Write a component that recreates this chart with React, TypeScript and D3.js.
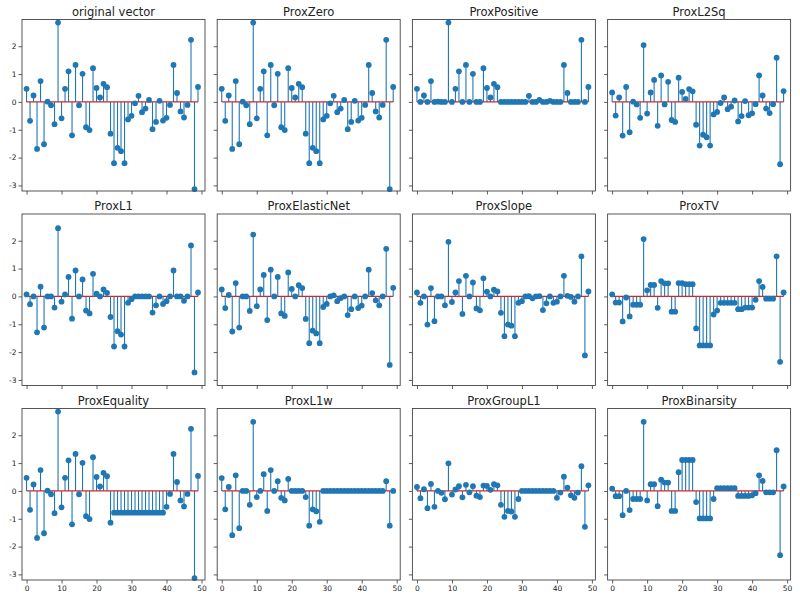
import React, { useEffect, useRef } from 'react';
import * as d3 from 'd3';

// values, one array per panel
const titles = [
    'original vector', 'ProxZero', 'ProxPositive', 'ProxL2Sq',
    'ProxL1', 'ProxElasticNet', 'ProxSlope', 'ProxTV',
    'ProxEquality', 'ProxL1w', 'ProxGroupL1', 'ProxBinarsity',
];

const original = [
    0.47, -0.68, 0.23, -1.69, 0.75, -1.52, 0.01, -0.12, -0.80, 2.85,
    -0.59, 0.47, 1.10, -1.20, 1.33, -0.12, 1.01, -0.91, -1.01, 1.21,
    0.50, 0.16, 0.65, 0.53, -1.14, -2.20, -1.65, -1.77, -2.20, -0.63,
    -0.50, -0.05, 0.22, -0.37, -0.24, 0.07, -0.98, -0.72, 0.04, -0.67,
    -0.57, -0.11, 1.33, 0.32, -0.34, -0.56, -0.11, 2.23, -3.13, 0.54,
];

const proxZero = [
    0.47, -0.68, 0.23, -1.69, 0.75, -1.52, 0.01, -0.12, -0.80, 2.85,
    -0.59, 0.47, 1.10, -1.20, 1.33, -0.12, 1.01, -0.91, -1.01, 1.21,
    0.50, 0.16, 0.65, 0.53, -1.14, -2.20, -1.65, -1.77, -2.20, -0.63,
    -0.50, -0.05, 0.22, -0.37, -0.24, 0.07, -0.98, -0.72, 0.04, -0.67,
    -0.57, -0.11, 1.33, 0.32, -0.34, -0.56, -0.11, 2.23, -3.13, 0.54,
];

const proxPositive = [
    0.47, 0, 0.23, 0, 0.75, 0, 0.01, 0, 0, 2.85,
    0, 0.47, 1.10, 0, 1.33, 0, 1.01, 0, 0, 1.21,
    0.50, 0.16, 0.65, 0.53, 0, 0, 0, 0, 0, 0,
    0, 0, 0.22, 0, 0, 0.07, 0, 0, 0.04, 0,
    0, 0, 1.33, 0.32, 0, 0, 0, 2.23, 0, 0.54,
];

const proxL2Sq = [
    0.34, -0.49, 0.16, -1.21, 0.54, -1.09, 0.01, -0.09, -0.57, 2.04,
    -0.42, 0.34, 0.79, -0.86, 0.95, -0.09, 0.72, -0.65, -0.72, 0.87,
    0.36, 0.11, 0.46, 0.38, -0.82, -1.57, -1.18, -1.27, -1.57, -0.45,
    -0.36, -0.04, 0.16, -0.26, -0.17, 0.05, -0.70, -0.51, 0.03, -0.48,
    -0.41, -0.08, 0.95, 0.23, -0.24, -0.40, -0.08, 1.59, -2.24, 0.39,
];

const proxL1 = [
    0.07, -0.28, 0, -1.29, 0.35, -1.12, 0, 0, -0.40, 2.45,
    -0.19, 0.07, 0.70, -0.80, 0.93, 0, 0.61, -0.51, -0.61, 0.81,
    0.10, 0, 0.25, 0.13, -0.74, -1.80, -1.25, -1.37, -1.80, -0.23,
    -0.10, 0, 0, 0, 0, 0, -0.58, -0.32, 0, -0.27,
    -0.17, 0, 0.93, 0, 0, -0.16, 0, 1.83, -2.73, 0.14,
];

const proxElasticNet = [
    0.25, -0.42, 0.05, -1.26, 0.48, -1.12, 0, 0, -0.52, 2.22,
    -0.35, 0.25, 0.77, -0.85, 0.96, 0, 0.70, -0.61, -0.70, 0.86,
    0.27, 0, 0.40, 0.30, -0.81, -1.68, -1.23, -1.33, -1.68, -0.38,
    -0.27, 0, 0.04, -0.17, -0.06, 0, -0.67, -0.46, 0, -0.42,
    -0.33, 0, 0.96, 0.12, -0.14, -0.32, 0, 1.71, -2.46, 0.31,
];

const proxSlope = [
    0.14, -0.23, 0, -1.01, 0.30, -0.89, 0, 0, -0.32, 1.96,
    -0.20, 0.14, 0.55, -0.63, 0.74, 0, 0.50, -0.43, -0.50, 0.65,
    0.17, 0, 0.24, 0.18, -0.59, -1.43, -1.01, -1.05, -1.43, -0.23,
    -0.17, 0, 0.01, -0.07, 0, 0.01, -0.49, -0.25, 0, -0.23,
    -0.19, 0, 0.74, 0.02, -0.02, -0.19, 0, 1.44, -2.12, 0.18,
];

const proxTV = [
    0.07, -0.22, -0.22, -0.90, -0.04, -0.72, -0.30, -0.30, -0.30, 2.06,
    0.22, 0.41, 0.41, -0.41, 0.55, 0.47, 0.47, -0.55, -0.55, 0.48,
    0.48, 0.44, 0.44, 0.44, -1.15, -1.76, -1.76, -1.76, -1.76, -0.65,
    -0.51, -0.23, -0.23, -0.23, -0.23, -0.23, -0.46, -0.46, -0.40, -0.40,
    -0.40, -0.12, 0.55, 0.34, -0.08, -0.08, -0.08, 1.44, -2.35, 0.14,
];

const proxEquality = [
    0.47, -0.68, 0.23, -1.69, 0.75, -1.52, 0.01, -0.12, -0.80, 2.85,
    -0.59, 0.47, 1.10, -1.20, 1.33, -0.12, 1.01, -0.91, -1.01, 1.21,
    0.50, 0.16, 0.65, 0.53, -1.14, -0.78, -0.78, -0.78, -0.78, -0.78,
    -0.78, -0.78, -0.78, -0.78, -0.78, -0.78, -0.78, -0.78, -0.78, -0.78,
    -0.57, -0.11, 1.33, 0.32, -0.34, -0.56, -0.11, 2.23, -3.13, 0.54,
];

const proxL1w = [
    0.46, -0.66, 0.14, -1.59, 0.56, -1.34, 0, 0, -0.50, 2.48,
    -0.22, 0, 0.60, -0.72, 0.75, 0, 0.35, -0.25, -0.34, 0.43,
    0, 0, 0, 0, -0.22, -1.25, -0.66, -0.73, -1.11, 0,
    0, 0, 0, 0, 0, 0, 0, 0, 0, 0,
    0, 0, 0, 0, 0, 0, 0, 0.35, -1.25, 0,
];

const proxGroupL1 = [
    0.14, -0.26, 0.06, -0.62, 0.25, -0.57, 0, -0.07, -0.30, 0.99,
    -0.13, 0.05, 0.17, -0.23, 0.22, -0.05, 0.17, -0.17, -0.22, 0.19,
    0.18, 0.04, 0.24, 0.20, -0.50, -0.93, -0.72, -0.74, -0.93, -0.29,
    0, 0, 0, 0, 0, 0, 0, 0, 0, 0,
    -0.25, -0.06, 0.51, 0.12, -0.16, -0.25, -0.06, 0.89, -1.29, 0.20,
];

const proxBinarsity = [
    0.08, -0.19, -0.19, -0.87, 0, -0.69, -0.29, -0.29, -0.29, 2.48,
    -0.34, 0.24, 0.24, -0.55, 0.40, 0.30, 0.30, -0.72, -0.72, 0.67,
    1.11, 1.11, 1.11, 1.11, -0.40, -0.99, -0.99, -0.99, -0.99, -0.29,
    0.10, 0.10, 0.10, 0.10, 0.10, 0.10, -0.18, -0.18, -0.18, -0.18,
    -0.16, -0.08, 0.56, 0.36, -0.05, -0.05, -0.05, 1.46, -2.31, 0.16,
];

const series = [
    original, proxZero, proxPositive, proxL2Sq,
    proxL1, proxElasticNet, proxSlope, proxTV,
    proxEquality, proxL1w, proxGroupL1, proxBinarsity,
];

const xTicks = [0, 10, 20, 30, 40, 50];
const yTicks = [-3, -2, -1, 0, 1, 2];

const App: React.FC = () => {
    const svgRef = useRef<SVGSVGElement | null>(null);

    useEffect(() => {
        const width = 800;
        const height = 600;
        const panelW = 183;
        const panelH = 171.5;
        const colStep = 195.2;
        const rowStep = 194.5;
        const left0 = 22;
        const top0 = 19.5;
        const blue = '#1f77b4';
        const font = '"DejaVu Sans", sans-serif';

        const svg = d3.select(svgRef.current)
            .attr('width', width)
            .attr('height', height);
        svg.selectAll('*').remove();
        svg.append('rect').attr('width', width).attr('height', height).attr('fill', '#fff');

        // shared axes for every panel
        const xScale = d3.scaleLinear().domain([-1.3, 51.0]).range([0, panelW]);
        const yScale = d3.scaleLinear().domain([-3.2, 2.96]).range([panelH, 0]);

        series.forEach((values, k) => {
            const col = k % 4;
            const row = Math.floor(k / 4);
            const g = svg.append('g')
                .attr('transform', `translate(${left0 + col * colStep}, ${top0 + row * rowStep})`);

            // stems
            g.selectAll('line.stem')
                .data(values)
                .enter()
                .append('line')
                .attr('class', 'stem')
                .attr('x1', (d, i) => xScale(i))
                .attr('x2', (d, i) => xScale(i))
                .attr('y1', yScale(0))
                .attr('y2', d => yScale(d))
                .attr('stroke', blue)
                .attr('stroke-width', 1.1);

            // red baseline from first to last index
            g.append('line')
                .attr('x1', xScale(0))
                .attr('x2', xScale(values.length - 1))
                .attr('y1', yScale(0))
                .attr('y2', yScale(0))
                .attr('stroke', '#d62728')
                .attr('stroke-width', 1.3);

            // markers
            g.selectAll('circle')
                .data(values)
                .enter()
                .append('circle')
                .attr('cx', (d, i) => xScale(i))
                .attr('cy', d => yScale(d))
                .attr('r', 2.9)
                .attr('fill', blue);

            // x axis (labels only on bottom row)
            const xAxis = g.append('g')
                .attr('transform', `translate(0, ${panelH})`)
                .call(d3.axisBottom(xScale).tickValues(xTicks).tickSize(3.5).tickPadding(2)
                    .tickFormat(row === 2 ? (d => String(d)) : () => ''));
            // y axis (labels only on first column)
            const yAxis = g.append('g')
                .call(d3.axisLeft(yScale).tickValues(yTicks).tickSize(3.5).tickPadding(2)
                    .tickFormat(col === 0 ? (d => String(d)) : () => ''));
            [xAxis, yAxis].forEach(a => {
                a.select('.domain').remove();
                a.selectAll('.tick line').attr('stroke', '#333').attr('stroke-width', 0.8);
                a.selectAll('.tick text')
                    .attr('fill', '#222')
                    .style('font-family', font)
                    .style('font-size', '7.5px');
            });

            // frame
            g.append('rect')
                .attr('width', panelW)
                .attr('height', panelH)
                .attr('fill', 'none')
                .attr('stroke', '#444')
                .attr('stroke-width', 0.9);

            g.append('text')
                .attr('x', panelW / 2)
                .attr('y', -4)
                .attr('text-anchor', 'middle')
                .attr('fill', '#222')
                .style('font-family', font)
                .style('font-size', '11.5px')
                .text(titles[k]);
        });
    }, []);

    return <svg ref={svgRef} style={{ position: 'absolute', left: 0, top: 0 }}></svg>;
};

export default App;
